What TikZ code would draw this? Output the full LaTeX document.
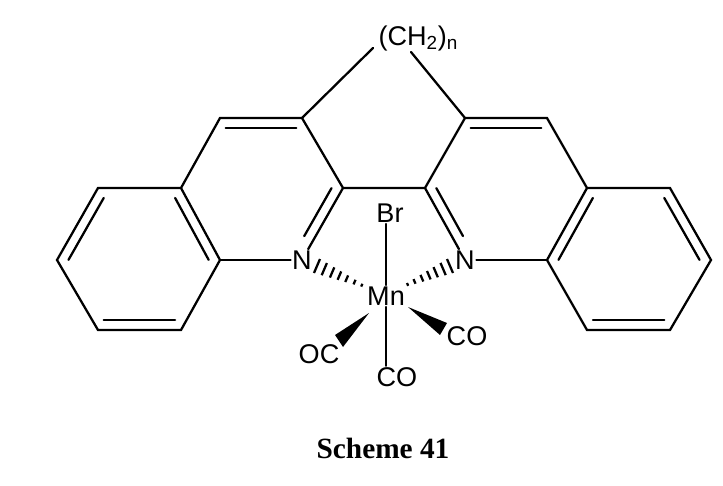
\documentclass[tikz,border=0pt]{standalone}
\usepackage{fontspec}
\setmainfont{Liberation Sans}
\newfontfamily\captionfont{Liberation Serif}
\usetikzlibrary{calc}
\tikzset{
  bond/.style={line width=1.7pt,line cap=round},
  hash/.style={line width=1.7pt},
  atom/.style={inner sep=1pt,font=\fontsize{20.3}{22}\selectfont},
}
\begin{document}
\begin{tikzpicture}[x=0.75pt,y=-0.75pt]
\useasboundingbox (0,0) rectangle (723,485);
% Points
\coordinate (l1) at (57,260);
\coordinate (l2) at (98,188);
\coordinate (l3) at (181,188);
\coordinate (l4) at (220,260);
\coordinate (l5) at (181,330);
\coordinate (l6) at (98,330);
\coordinate (l7) at (220,118);
\coordinate (l8) at (302,118);
\coordinate (l9) at (343,188);
\coordinate (r9) at (425,188);
\coordinate (r8) at (465,118);
\coordinate (r7) at (547,118);
\coordinate (r3) at (587,188);
\coordinate (r4) at (547,260);
\coordinate (r2) at (670,188);
\coordinate (r1) at (711,260);
\coordinate (r6) at (670,330);
\coordinate (r5) at (587,330);
\coordinate (cl) at (139,259);
\coordinate (cm) at (261,189);
\coordinate (cn) at (506,189);
\coordinate (cr) at (629,259);
% Atoms
\node[atom] (Nl) at (302,260) {N};
\node[atom] (Nr) at (465,260) {N};
\node[atom] (Mn) at (386,296) {Mn};
\node[atom] (Br) at (390,213) {Br};
\node[atom] (OC) at (319,354) {OC};
\node[atom] (COr) at (467,336) {CO};
\node[atom] (COb) at (397,377) {CO};
\node[atom,anchor=west] (CH) at (377,38) {(CH\textsubscript{2})\textsubscript{n}};
\node[inner sep=0pt,font=\captionfont\bfseries\fontsize{22}{24}\selectfont] (cap) at (383,448) {Scheme 41};
% Rings
\draw[bond] (l1) -- (l2) -- (l3) -- (l4) -- (l5) -- (l6) -- cycle;
\draw[bond] (l3) -- (l7) -- (l8) -- (l9) -- (r9) -- (r8) -- (r7) -- (r3) -- (r4);
\draw[bond] (r3) -- (r2) -- (r1) -- (r6) -- (r5) -- (r4);
\draw[bond] (l4) -- (Nl);
\draw[bond] (r4) -- (Nr);
\draw[bond] (l9) -- (Nl);
\draw[bond] (r9) -- (Nr);
% Double bonds
\draw[bond] ($(l1)!.14!(cl)$) -- ($(l2)!.14!(cl)$);
\draw[bond] ($(l3)!.14!(cl)$) -- ($(l4)!.14!(cl)$);
\draw[bond] ($(l5)!.14!(cl)$) -- ($(l6)!.14!(cl)$);
\draw[bond] ($(l7)!.14!(cm)$) -- ($(l8)!.14!(cm)$);
\draw[bond,shorten >=12pt] ($(l9)!.14!(cm)$) -- ($(Nl)!.14!(cm)$);
\draw[bond] ($(r8)!.14!(cn)$) -- ($(r7)!.14!(cn)$);
\draw[bond,shorten >=12pt] ($(r9)!.14!(cn)$) -- ($(Nr)!.14!(cn)$);
\draw[bond] ($(r3)!.14!(cr)$) -- ($(r4)!.14!(cr)$);
\draw[bond] ($(r2)!.14!(cr)$) -- ($(r1)!.14!(cr)$);
\draw[bond] ($(r6)!.14!(cr)$) -- ($(r5)!.14!(cr)$);
% Bridge
\draw[bond] (l8) -- (373,48) coordinate (bl);
\draw[bond] (r8) -- (411,52) coordinate (br);
% Metal
\draw[bond] (Br.south -| Mn) -- (Mn.north);
\draw[bond] (Mn.south) -- (COb.north -| Mn);
% Wedges
\coordinate (wl) at (369,313);
\coordinate (wr) at (408,307);
\fill (wl) -- (335,335) -- (343,347) -- cycle;
\fill (wr) -- (447,323) -- (440,335) -- cycle;
% Hashes
\coordinate (hl) at (373,290);
\coordinate (hr) at (397,289);
\foreach \t in {0.2,0.33,0.47,0.6,0.73,0.87,1} {
  \draw[hash] ($(hl)!\t!(320,259)$) -- ($(hl)!\t!(314,273)$);
  \draw[hash] ($(hr)!\t!(447,259)$) -- ($(hr)!\t!(453,273)$);
}
\end{tikzpicture}
\end{document}
